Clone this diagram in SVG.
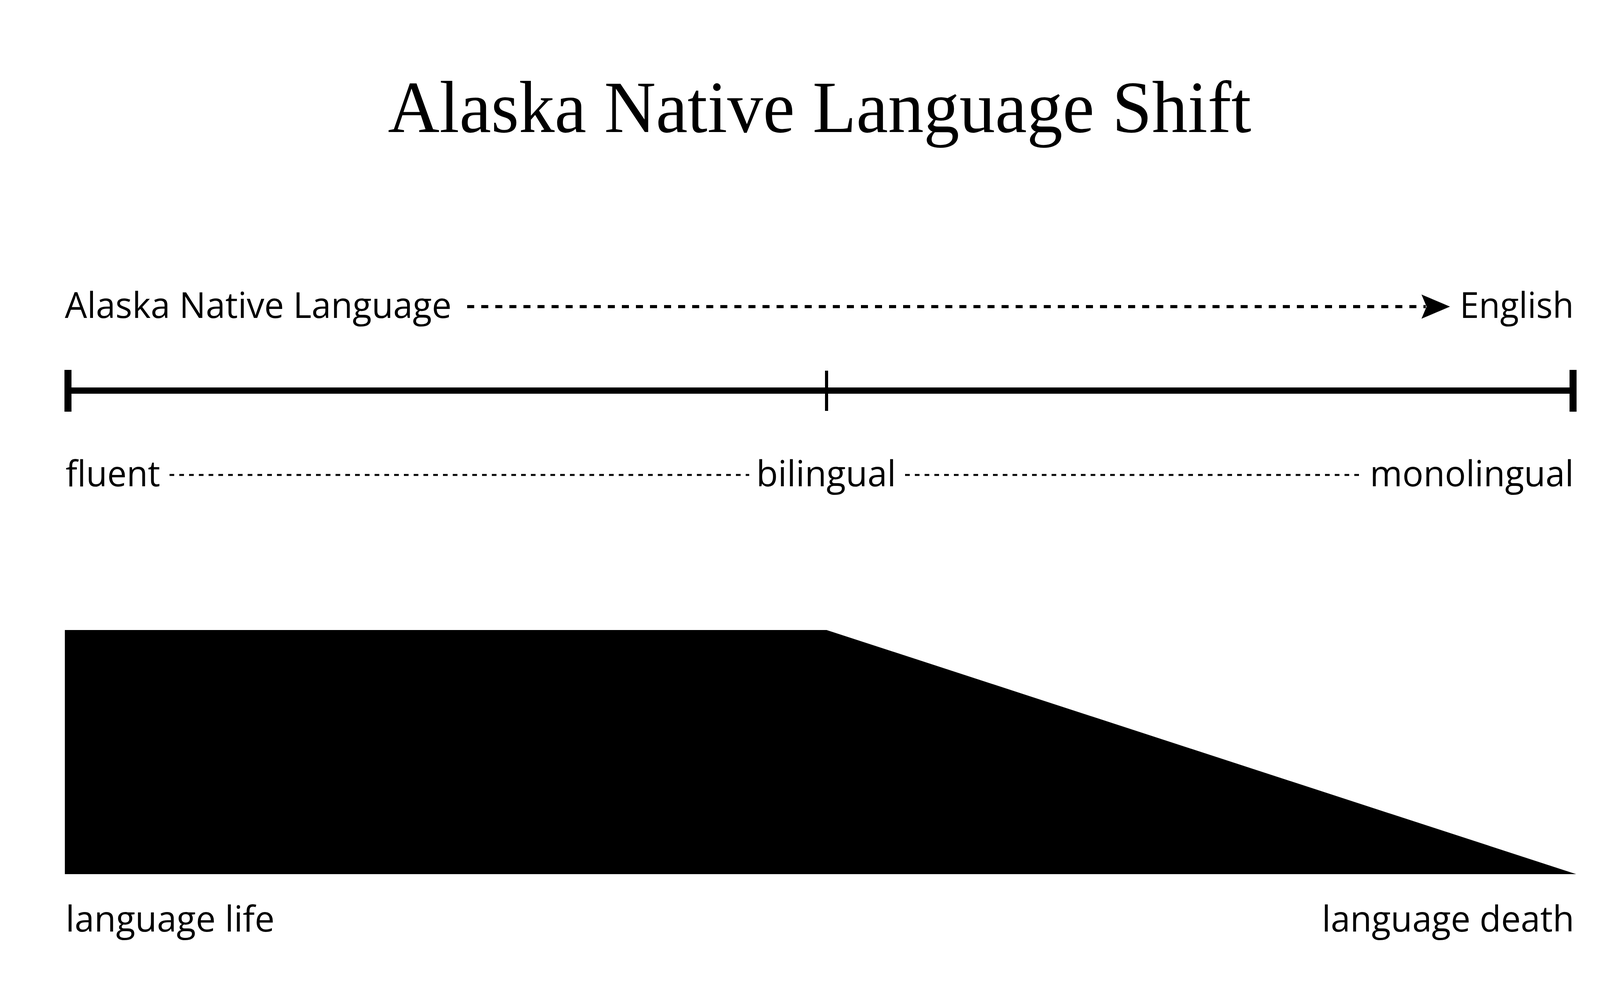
<svg xmlns="http://www.w3.org/2000/svg" width="4200" height="2550" viewBox="0 0 4200 2550">
  <style>
    .title { font-family: "Liberation Serif", "DejaVu Serif", serif; font-size: 188px; fill: #000; }
    .lbl { font-family: "Open Sans", "Noto Sans", "Liberation Sans", sans-serif; font-size: 92px; fill: #000; }
    .dash { stroke: #000; stroke-width: 8; stroke-dasharray: 18 18; fill: none; }
    .dot { stroke: #000; stroke-width: 5; stroke-dasharray: 12 13; fill: none; }
    .axis { stroke: #000; stroke-width: 16; fill: none; }
    .tick { stroke: #000; stroke-width: 18; }
    .tickmid { stroke: #000; stroke-width: 8; }
  </style>
  <rect x="0" y="0" width="4200" height="2550" fill="#fff"/>

  <g id="title">
    <text class="title" x="993" y="338" textLength="2210" lengthAdjust="spacingAndGlyphs">Alaska Native Language Shift</text>
  </g>

  <g id="node-alaska-native-language">
    <text class="lbl" x="166" y="814" textLength="990" lengthAdjust="spacingAndGlyphs">Alaska Native Language</text>
  </g>
  <g id="node-english">
    <text class="lbl" x="3737" y="814" textLength="292" lengthAdjust="spacingAndGlyphs">English</text>
  </g>

  <g id="timeline">
    <line class="axis" x1="166" y1="1000" x2="4036" y2="1000"/>
    <line class="tick" x1="174" y1="947" x2="174" y2="1054"/>
    <line class="tickmid" x1="2116" y1="949" x2="2116" y2="1052"/>
    <line class="tick" x1="4027" y1="947" x2="4027" y2="1054"/>
  </g>

  <g id="node-fluent">
    <text class="lbl" x="168" y="1245" textLength="242" lengthAdjust="spacingAndGlyphs">fluent</text>
  </g>
  <g id="node-bilingual">
    <text class="lbl" x="1936" y="1245" textLength="358" lengthAdjust="spacingAndGlyphs">bilingual</text>
  </g>
  <g id="node-monolingual">
    <text class="lbl" x="3507" y="1245" textLength="522" lengthAdjust="spacingAndGlyphs">monolingual</text>
  </g>

  <g id="connectors">
    <line class="dash" x1="1196" y1="785" x2="3650" y2="785"/>
    <polygon points="3639,754 3712,785 3639,816 3652,785" fill="#000"/>
    <line class="dot" x1="434" y1="1216" x2="1918" y2="1216"/>
    <line class="dot" x1="2317" y1="1216" x2="3480" y2="1216"/>
  </g>

  <g id="vitality-shape">
    <polygon points="166,1613 2116,1613 4035,2238 166,2238" fill="#000"/>
  </g>

  <g id="node-language-life">
    <text class="lbl" x="168" y="2385" textLength="535" lengthAdjust="spacingAndGlyphs">language life</text>
  </g>
  <g id="node-language-death">
    <text class="lbl" x="3384" y="2385" textLength="646" lengthAdjust="spacingAndGlyphs">language death</text>
  </g>
</svg>
